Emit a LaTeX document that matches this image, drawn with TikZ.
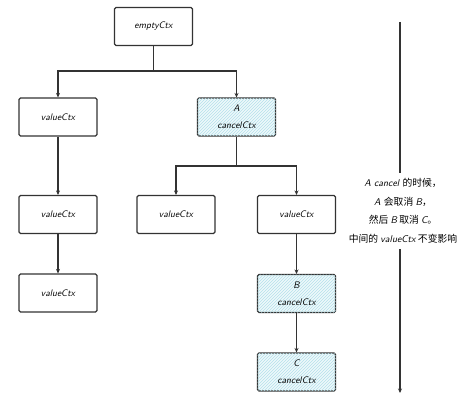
\documentclass[tikz,border=0pt]{standalone}
\usepackage{fontspec}
\newfontfamily\cjk{Noto Sans CJK SC}
\usetikzlibrary{arrows.meta,patterns}
\newcommand{\lat}[1]{{\sffamily\itshape #1}}
\begin{document}
\begin{tikzpicture}[x=1pt,y=-1pt,
  box/.style={draw=black!80, line width=1.1pt, rounded corners=1.5pt, minimum width=78pt, minimum height=38pt, inner sep=0pt, font=\sffamily\itshape\fontsize{9.5}{11}\selectfont, align=center},
  hatch/.style={box, fill={rgb,255:red,238;green,249;blue,251}, postaction={pattern=north east lines, pattern color={rgb,255:red,180;green,224;blue,235}}},
  link/.style={draw=black!80, line width=1.1pt},
  arr/.style={link, -{Stealth[length=4.5pt,width=4pt]}},
  note/.style={font=\fontsize{9.8}{18.5}\selectfont, align=center, inner sep=0pt}
]
\useasboundingbox (0,0) rectangle (474,409);
\node[box] (empty) at (153.5,26.5) {emptyCtx};
\node[box] (v1) at (58,117) {valueCtx};
\node[hatch] (A) at (236.5,117) {A\\[6pt]cancelCtx};
\node[box] (v2) at (58,214.5) {valueCtx};
\node[box] (v3) at (58,293) {valueCtx};
\node[box] (vm) at (176,214.5) {valueCtx};
\node[box] (vr) at (296.5,214.5) {valueCtx};
\node[hatch] (B) at (296.5,293.5) {B\\[6pt]cancelCtx};
\node[hatch] (C) at (296.5,372) {C\\[6pt]cancelCtx};

\coordinate (j1) at (153.5,71);
\coordinate (j2) at (236.5,166);
\draw[link] (empty.south) -- (j1);
\draw[arr] (j1) -| (v1.north);
\draw[arr] (j1) -| (A.north);
\draw[link] (A.south) -- (j2);
\draw[arr] (j2) -| (vm.north);
\draw[arr] (j2) -| (vr.north);
\draw[arr] (v1.south) -- (v2.north);
\draw[arr] (v2.south) -- (v3.north);
\draw[arr] (vr.south) -- (B.north);
\draw[arr] (B.south) -- (C.north);

\node[note] (txt) at (403,211) {\lat{A cancel} \cjk{的时候，}\\\lat{A} \cjk{会取消} \lat{B}\cjk{，}\\\cjk{然后} \lat{B} \cjk{取消} \lat{C}\cjk{。}\\\cjk{中间的} \lat{valueCtx} \cjk{不变影响}};
\coordinate (ltop) at (400,22);
\coordinate (lmid1) at (400,173);
\coordinate (lmid2) at (400,249);
\coordinate (lbot) at (400,393);
\draw[link] (ltop) -- (lmid1);
\draw[arr] (lmid2) -- (lbot);
\end{tikzpicture}
\end{document}
